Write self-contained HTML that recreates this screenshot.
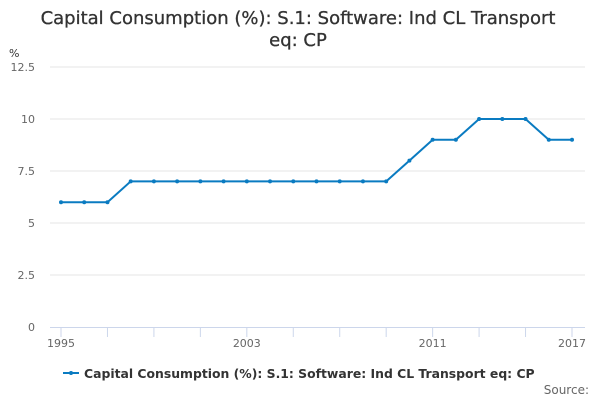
<!DOCTYPE html>
<html><head><meta charset="utf-8"><style>
body{margin:0;background:#fff;font-family:"DejaVu Sans","Liberation Sans",sans-serif;}
svg text{font-family:"DejaVu Sans","Liberation Sans",sans-serif;}
</style></head><body>
<svg id="c" width="600" height="400" xmlns="http://www.w3.org/2000/svg">
<text x="298" y="24" text-anchor="middle" font-size="18" fill="#333" stroke="#333" stroke-width="0.3">Capital Consumption (%): S.1: Software: Ind CL Transport</text>
<text x="298" y="46" text-anchor="middle" font-size="18" fill="#333" stroke="#333" stroke-width="0.3">eq: CP</text>
<text x="9" y="57" font-size="11" fill="#333">%</text>
<g id="grid"></g><g id="xa"></g><g id="series"></g>
<g>
<line x1="63" y1="373" x2="79" y2="373" stroke="#0a7bc1" stroke-width="2"/>
<circle cx="71" cy="373" r="2" fill="#0a7bc1"/>
<text x="84" y="378" font-size="12.4" font-weight="bold" fill="#333">Capital Consumption (%): S.1: Software: Ind CL Transport eq: CP</text>
</g>
<text x="589" y="394" text-anchor="end" font-size="12" fill="#666">Source:</text>
</svg>
<script>
const years=[1995,1996,1997,1998,1999,2000,2001,2002,2003,2004,2005,2006,2007,2008,2009,2010,2011,2012,2013,2014,2015,2016,2017];
const values=[6,6,6,7,7,7,7,7,7,7,7,7,7,7,7,8,9,9,10,10,10,9,9];
const yTicks=[0,2.5,5,7.5,10,12.5];
const yTickLabels=["0","2.5","5","7.5","10","12.5"];
const xLabels=[1995,2003,2011,2017];
const NS="http://www.w3.org/2000/svg";
const x=y=>61+(y-1995)*(572-61)/22;
const yS=v=>327-v*(327-67)/12.5;
function mk(t,a,p){const e=document.createElementNS(NS,t);for(const k in a)e.setAttribute(k,a[k]);p.appendChild(e);return e;}
const g=document.getElementById('grid'),xa=document.getElementById('xa'),s=document.getElementById('series');
yTicks.forEach((v,i)=>{
 if(v>0){const l=mk('line',{x1:50,x2:585,y1:yS(v),y2:yS(v),stroke:'#e6e6e6','stroke-width':1},g);
 
 }
 const t=mk('text',{x:35,y:yS(v)+4,'text-anchor':'end','font-size':11,fill:'#666'},g);t.textContent=yTickLabels[i];
 
 
});
const ax=mk('line',{x1:50,x2:585,y1:327.5,y2:327.5,stroke:'#ccd6eb','stroke-width':1},xa);


for(let yr=1995;yr<=2017;yr+=2){const tk=mk('line',{x1:x(yr),x2:x(yr),y1:327,y2:337,stroke:'#ccd6eb'},xa);
 
 }
xLabels.forEach(yr=>{const t=mk('text',{x:x(yr),y:347,'text-anchor':'middle','font-size':11,fill:'#666'},xa);t.textContent=yr;
 
 });
const pl=mk('polyline',{points:years.map((yr,i)=>x(yr)+','+yS(values[i])).join(' '),fill:'none',stroke:'#0a7bc1','stroke-width':2},s);


years.forEach((yr,i)=>{const c=mk('circle',{cx:x(yr),cy:yS(values[i]),r:2,fill:'#0a7bc1'},s);
 
 });
</script>
</body></html>
